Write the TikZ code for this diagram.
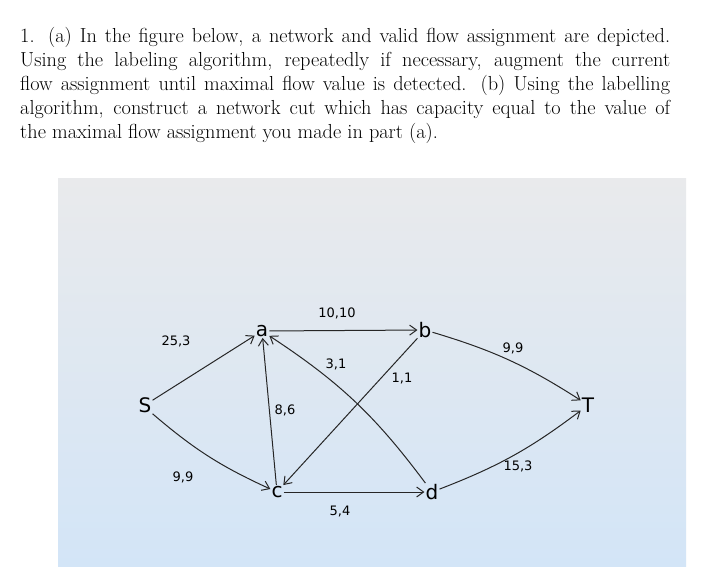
\documentclass[tikz,border=0pt]{standalone}
\usepackage{fontspec}
\newfontfamily\hand{DejaVu Sans}[Scale=1]
\usetikzlibrary{arrows.meta}
\definecolor{topc}{HTML}{E9EAEC}
\definecolor{botc}{HTML}{D3E5F7}
\begin{document}
\begin{tikzpicture}[x=1pt,y=-1pt,
  v/.style={font=\hand\fontsize{20}{20}\selectfont,inner sep=1pt},
  lab/.style={font=\hand\fontsize{13}{13}\selectfont},
  e/.style={draw=black!85,line width=1pt,-{Straight Barb[length=7pt,width=10pt]}}]
\useasboundingbox (0,0) rectangle (713,566);
\fill[white] (0,0) rectangle (713,566);
\shade[top color=topc,bottom color=botc] (58,178) rectangle (686,566);
\node[anchor=north west,text width=650pt,align=justify,inner sep=0pt,font=\fontsize{20.3}{24}\selectfont] (txt) at (20,27)
{1. (a) In the figure below, a network and valid flow assignment are depicted.\linebreak Using the labeling algorithm, repeatedly if necessary, augment the current\linebreak flow assignment until maximal flow value is detected. (b) Using the labelling\linebreak algorithm, construct a network cut which has capacity equal to the value of\linebreak the maximal flow assignment you made in part (a).};
\node[v] (S) at (145,405) {S};
\node[v] (a) at (262,331) {a};
\node[v] (b) at (425,330) {b};
\node[v] (T) at (588,405) {T};
\node[v] (c) at (277,492) {c};
\node[v] (d) at (432,492) {d};
\draw[e] (S) -- (a);
\draw[e] (a) -- (b);
\draw[e] (b) to[bend left=8] (T);
\draw[e] (c) -- (a);
\draw[e] (d) to[bend right=10] (a);
\draw[e] (b) -- (c);
\draw[e] (S.south east) to[bend left=-8] (c);
\draw[e] (c) -- (d);
\draw[e] (d) to[bend right=8] (T);
\node[lab] (l1) at (176,341) {25,3};
\node[lab] (l2) at (337,313) {10,10};
\node[lab] (l3) at (336,364) {3,1};
\node[lab] (l4) at (402,379) {1,1};
\node[lab] (l5) at (285,410) {8,6};
\node[lab] (l6) at (513,348) {9,9};
\node[lab] (l7) at (183,477) {9,9};
\node[lab] (l8) at (340,512) {5,4};
\node[lab] (l9) at (518,466) {15,3};
\end{tikzpicture}
\end{document}
